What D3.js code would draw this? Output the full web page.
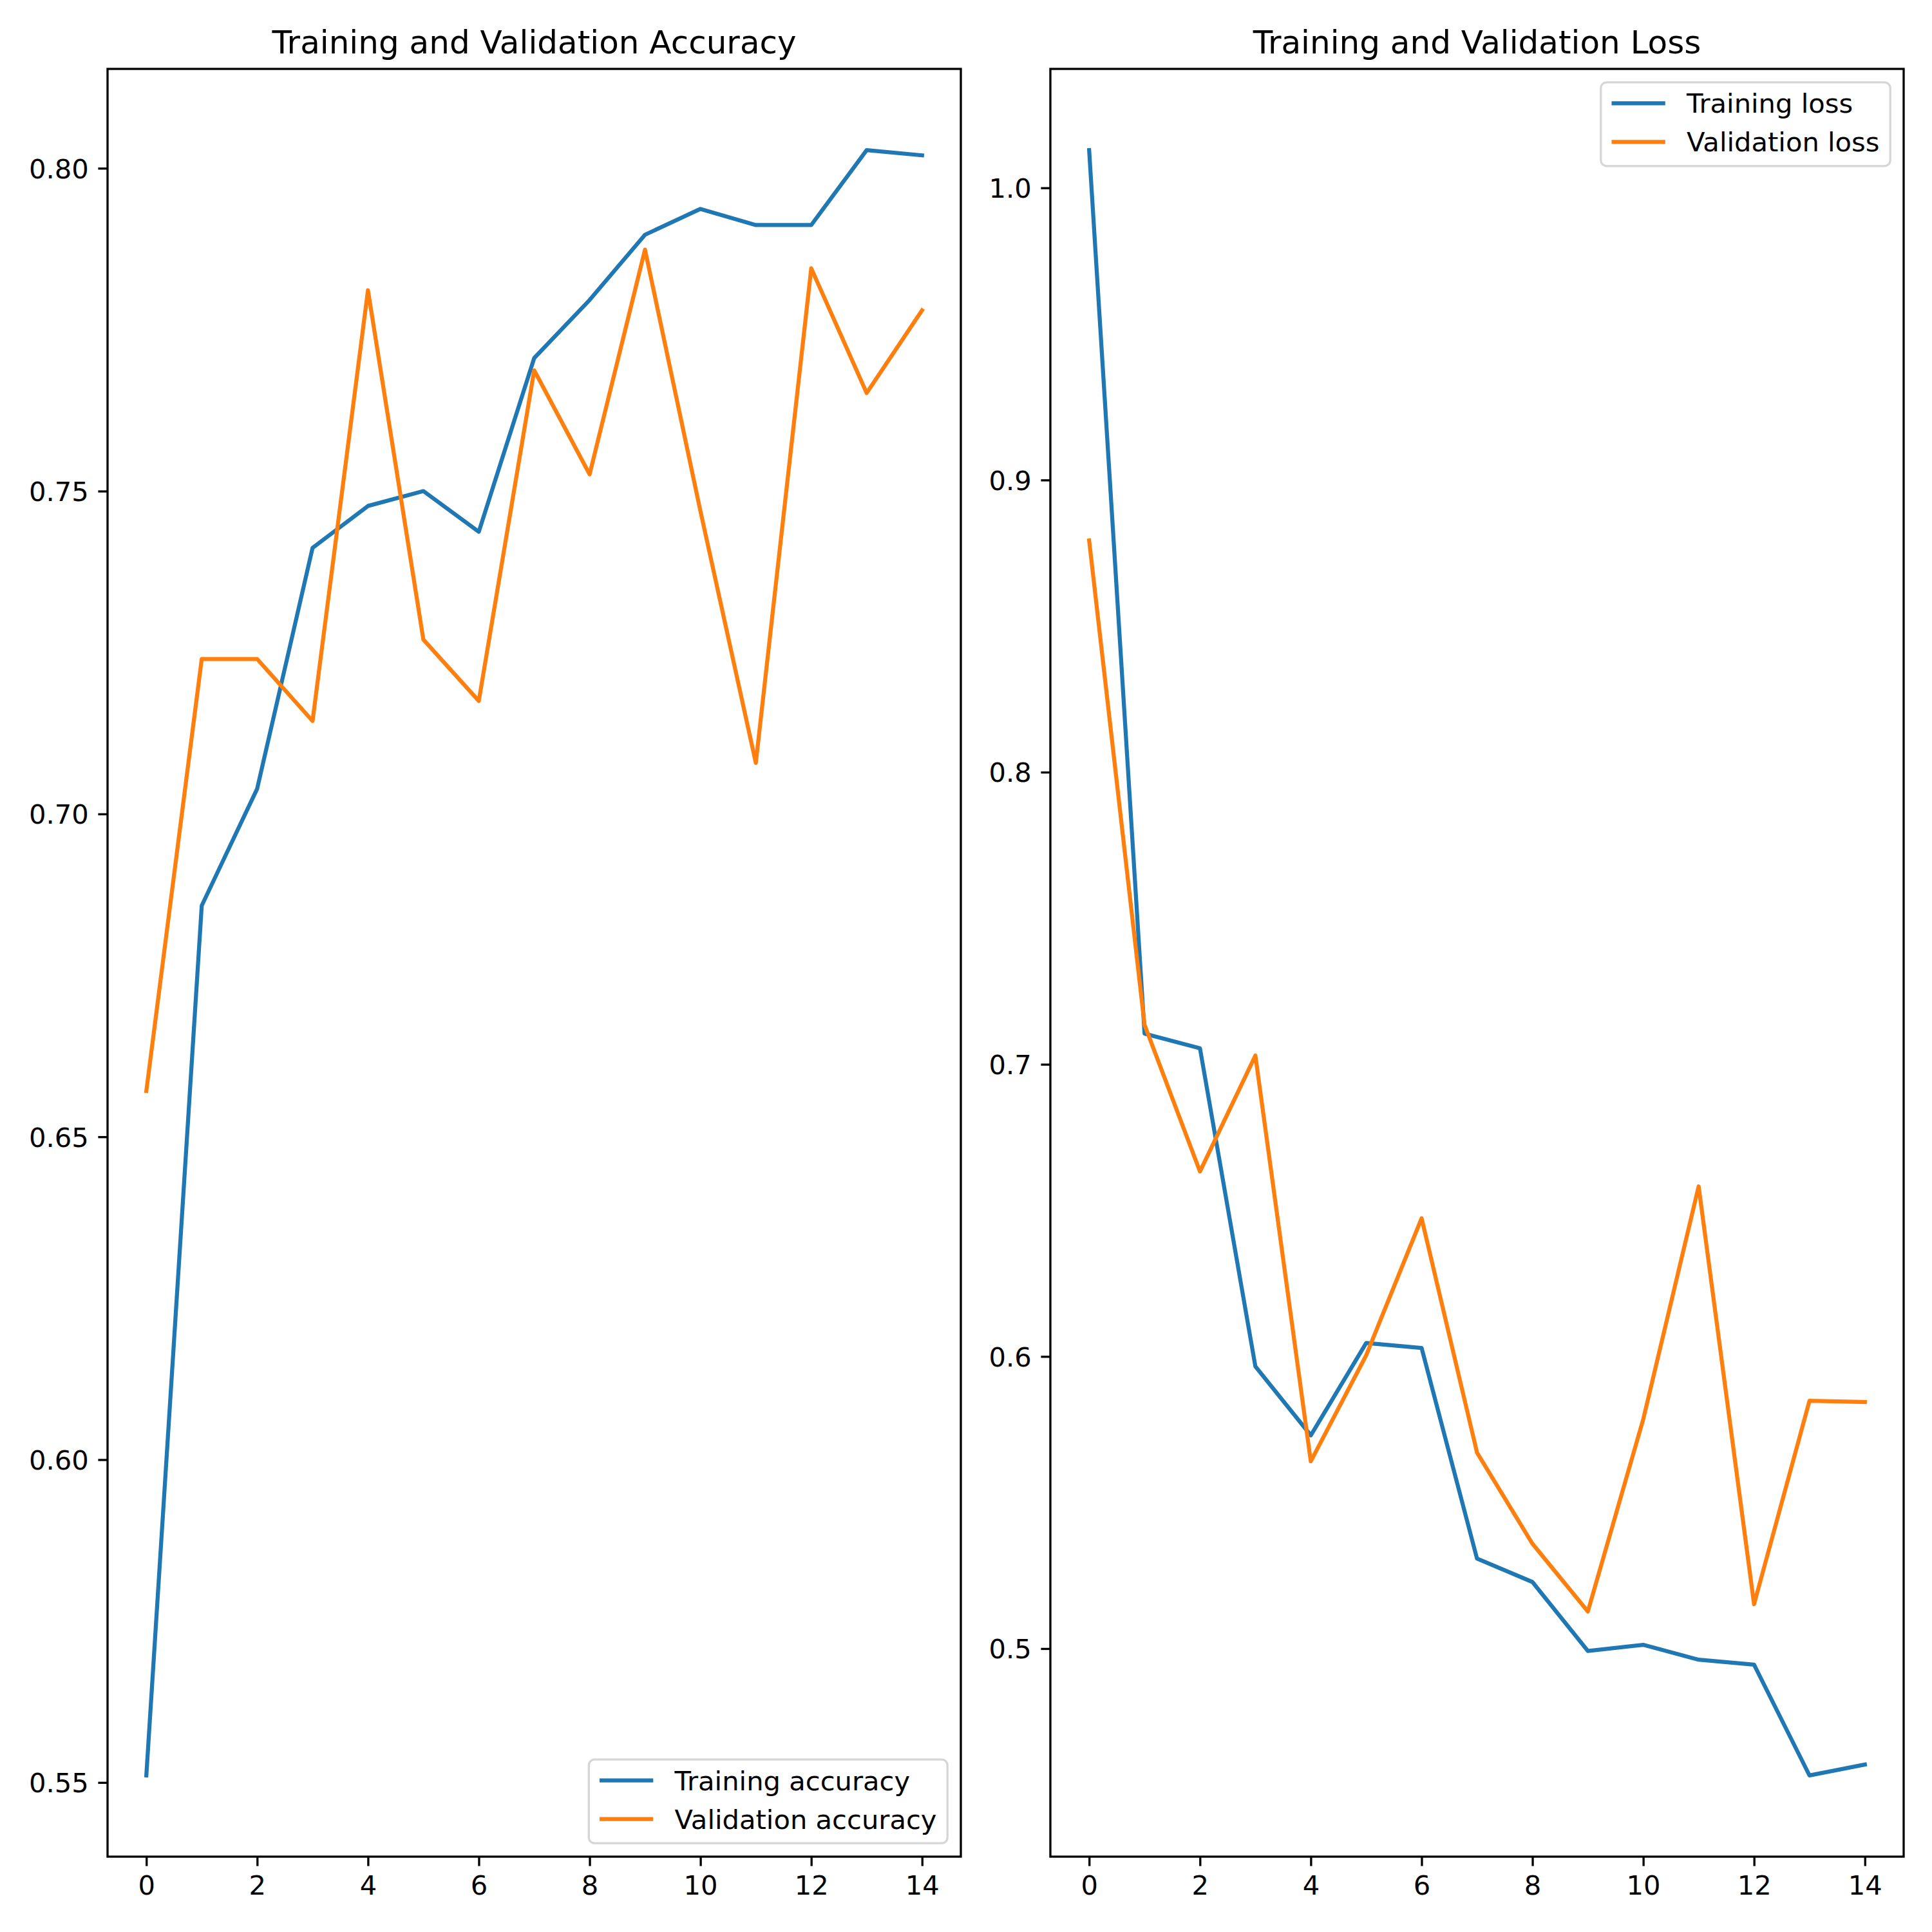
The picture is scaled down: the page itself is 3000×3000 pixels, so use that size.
<!DOCTYPE html>
<html>
<head>
<meta charset="utf-8">
<script src="https://cdn.jsdelivr.net/npm/d3@7"></script>
<style>
    body { margin: 0; background: white; }
    text { font-family: "DejaVu Sans", sans-serif; fill: black; }
</style>
</head>
<body>
<svg id="canvas" width="3000" height="3000"></svg>
<script>
let epochs = [0, 1, 2, 3, 4, 5, 6, 7, 8, 9, 10, 11, 12, 13, 14]

let trainAcc = [0.5511, 0.6858, 0.7039, 0.7412, 0.7477, 0.7500, 0.7437, 0.7706, 0.7796, 0.7897, 0.7937, 0.7912, 0.7912, 0.8028, 0.8020]
let valAcc = [0.6571, 0.724, 0.724, 0.7144, 0.7811, 0.727, 0.7175, 0.7687, 0.7526, 0.7874, 0.7469, 0.7079, 0.7845, 0.7652, 0.778]

let trainLoss = [1.0129, 0.7105, 0.7055, 0.5966, 0.573, 0.6046, 0.6029, 0.5308, 0.5228, 0.4992, 0.5013, 0.4962, 0.4945, 0.4566, 0.4603]
let valLoss = [0.8793, 0.7135, 0.6633, 0.703, 0.5641, 0.6004, 0.6473, 0.5671, 0.5359, 0.5127, 0.5785, 0.6582, 0.5152, 0.5848, 0.5844]

let xTicks = [0, 2, 4, 6, 8, 10, 12, 14]
let accTicks = [0.55, 0.60, 0.65, 0.70, 0.75, 0.80]
let lossTicks = [0.5, 0.6, 0.7, 0.8, 0.9, 1.0]

let canvas = d3.select("#canvas")

let blue = "#1f77b4"
let orange = "#ff7f0e"
let fontSize = 41.67
let tickLen = 14.6
let tickPad = 14.6
let axisWidth = 3.33

// pad like matplotlib autoscale (5% each side)
let padded = (values) => {
    let [lo, hi] = d3.extent(values)
    let m = (hi - lo) * 0.05
    return [lo - m, hi + m]
}

let drawPanel = (box, title, series, yTicks, yFormat, legendPos) => {

    let xScale = d3.scaleLinear()
                    .domain(padded(epochs))
                    .range([box.left, box.right])

    let allValues = series.reduce((acc, s) => acc.concat(s.values), [])

    let yScale = d3.scaleLinear()
                    .domain(padded(allValues))
                    .range([box.bottom, box.top])

    let panel = canvas.append("g")

    // x axis
    let xAxis = d3.axisBottom(xScale)
                    .tickValues(xTicks)
                    .tickFormat(d3.format("d"))
                    .tickSize(tickLen)
                    .tickPadding(tickPad)

    let xg = panel.append("g")
            .attr("transform", "translate(0," + box.bottom + ")")
            .call(xAxis)
    xg.select(".domain").remove()
    xg.selectAll("line").attr("stroke", "black").attr("stroke-width", axisWidth)
    xg.selectAll("text")
            .attr("dy", null)
            .attr("y", 59)
            .style("font-size", fontSize + "px")
            .style("font-family", "DejaVu Sans")

    // y axis
    let yAxis = d3.axisLeft(yScale)
                    .tickValues(yTicks)
                    .tickFormat(d3.format(yFormat))
                    .tickSize(tickLen)
                    .tickPadding(tickPad)

    let yg = panel.append("g")
            .attr("transform", "translate(" + box.left + ",0)")
            .call(yAxis)
    yg.select(".domain").remove()
    yg.selectAll("line").attr("stroke", "black").attr("stroke-width", axisWidth)
    yg.selectAll("text")
            .attr("dy", null)
            .attr("y", 15)
            .style("font-size", fontSize + "px")
            .style("font-family", "DejaVu Sans")

    // lines
    let line = d3.line()
                .x((d, i) => xScale(epochs[i]))
                .y((d) => yScale(d))

    series.forEach((s) => {
        panel.append("path")
                .attr("d", line(s.values))
                .attr("fill", "none")
                .attr("stroke", s.color)
                .attr("stroke-width", 6.25)
                .attr("stroke-linejoin", "round")
                .attr("stroke-linecap", "square")
    })

    // frame
    panel.append("rect")
            .attr("x", box.left)
            .attr("y", box.top)
            .attr("width", box.right - box.left)
            .attr("height", box.bottom - box.top)
            .attr("fill", "none")
            .attr("stroke", "black")
            .attr("stroke-width", axisWidth)

    // title
    panel.append("text")
            .attr("x", (box.left + box.right) / 2)
            .attr("y", box.top - 24)
            .attr("text-anchor", "middle")
            .style("font-size", 50 + "px")
            .text(title)

    // legend
    let legend = panel.append("g")
    let frame = legend.append("rect")

    let labels = series.map((s, i) => {
        return legend.append("text")
                .style("font-size", fontSize + "px")
                .text(s.label)
    })

    let textWidth = d3.max(labels, (t) => t.node().getComputedTextLength())
    let legendW = 16.7 * 2 + 83.3 + 33.3 + textWidth
    let legendH = 130
    let lx = box.right - 20.8 - legendW
    let ly = legendPos === "lower right" ? box.bottom - 20.8 - legendH : box.top + 20.8

    frame.attr("x", lx)
            .attr("y", ly)
            .attr("width", legendW)
            .attr("height", legendH)
            .attr("rx", 9)
            .attr("fill", "white")
            .attr("fill-opacity", 0.8)
            .attr("stroke", "#cccccc")
            .attr("stroke-opacity", 0.8)
            .attr("stroke-width", axisWidth)

    series.forEach((s, i) => {
        let rowY = ly + 32.5 + i * 60
        legend.append("line")
                .attr("x1", lx + 16.7)
                .attr("x2", lx + 16.7 + 83.3)
                .attr("y1", rowY)
                .attr("y2", rowY)
                .attr("stroke", s.color)
                .attr("stroke-width", 6.25)
        labels[i]
                .attr("x", lx + 16.7 + 83.3 + 33.3)
                .attr("y", rowY + 15)
    })
}

drawPanel(
    { left: 167, right: 1492, top: 107, bottom: 2883 },
    "Training and Validation Accuracy",
    [
        { label: "Training accuracy", values: trainAcc, color: blue },
        { label: "Validation accuracy", values: valAcc, color: orange }
    ],
    accTicks, ".2f", "lower right"
)

drawPanel(
    { left: 1631, right: 2956, top: 107, bottom: 2883 },
    "Training and Validation Loss",
    [
        { label: "Training loss", values: trainLoss, color: blue },
        { label: "Validation loss", values: valLoss, color: orange }
    ],
    lossTicks, ".1f", "upper right"
)
</script>
</body>
</html>
